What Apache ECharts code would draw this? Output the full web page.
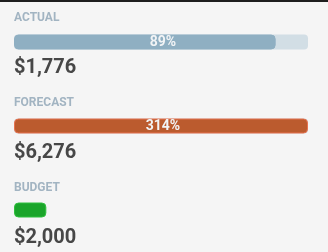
<!DOCTYPE html>
<html><head><meta charset="utf-8">
<style>html,body{margin:0;padding:0;background:#f5f5f5}#c{width:328px;height:252px}</style>
<script src="https://cdn.jsdelivr.net/npm/echarts@6/dist/echarts.min.js"></script>
</head><body><div id="c"></div>
<script>
// rows: label, amount text, bar percent (capped at 100), shown percent
const names = ["ACTUAL", "FORECAST", "BUDGET"];
const amounts = ["$1,776", "$6,276", "$2,000"];
const pctShown = ["89%", "314%", ""];
const pctBar = [89, 100, 11];
const trackVals = [100, 100, 0];
const barColors = ["#8fafc2", "#bb5b2e", "#1aa52a"];
const borderColors = ["#8fafc2", "#e7724f", "#2fc03e"];

const chart = echarts.init(document.getElementById("c"));
const rowH = 85;
const texts = [];
names.forEach((n, i) => {
  texts.push({ type: "text", left: 14, top: 12 + i * rowH,
    style: { text: n, font: "bold 12px Roboto", fill: "#a2b4c2" } });
  texts.push({ type: "text", left: 14, top: 58 + i * rowH,
    style: { text: amounts[i], font: "bold 20px Roboto", fill: "#474747" } });
});
texts.push({ type: "rect", left: 0, top: 0, shape: { width: 328, height: 2 }, style: { fill: "#1e1e1e" } });

chart.setOption({
  backgroundColor: "#f5f5f5",
  animation: false,
  grid: { left: 14, right: 20, top: -3, height: 255 },
  xAxis: { type: "value", min: 0, max: 100, show: false },
  yAxis: { type: "category", data: names, inverse: true, show: false },
  graphic: texts,
  series: [
    { type: "bar", barWidth: 15, barGap: "-100%", silent: true,
      data: trackVals.map(v => ({ value: v })),
      itemStyle: { color: "#d2dee5", borderRadius: 4 } },
    { type: "bar", barWidth: 15, barGap: "-100%", silent: true,
      data: pctBar.map((v, i) => ({ value: v, itemStyle: { color: barColors[i], borderColor: borderColors[i], borderWidth: 1 } })),
      itemStyle: { borderRadius: 4 } },
    { type: "bar", barWidth: 15, barGap: "-100%", silent: true,
      data: pctShown.map(() => 100),
      itemStyle: { color: "rgba(0,0,0,0)" },
      label: { show: true, position: "inside", formatter: p => pctShown[p.dataIndex],
        color: "#f2f4f6", fontFamily: "Roboto", fontWeight: "bold", fontSize: 14, offset: [2, 0] } }
  ]
});
</script></body></html>
